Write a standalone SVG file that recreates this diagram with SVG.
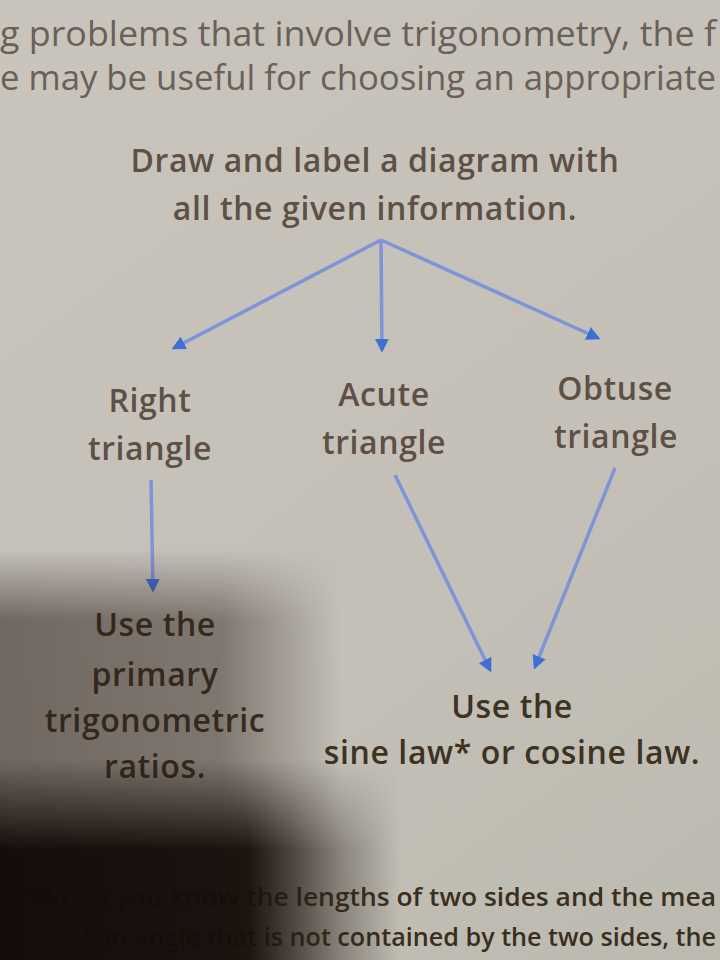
<svg xmlns="http://www.w3.org/2000/svg" width="720" height="960" viewBox="0 0 720 960">
<defs>
<linearGradient id="paper" x1="0" y1="0" x2="720" y2="960" gradientUnits="userSpaceOnUse">
<stop offset="0" stop-color="#c9c5bd"/>
<stop offset="0.6" stop-color="#c4c0b7"/>
<stop offset="1" stop-color="#bcbab0"/>
</linearGradient>
<linearGradient id="hMed" x1="0" y1="0" x2="340" y2="0" gradientUnits="userSpaceOnUse">
<stop offset="0" stop-color="#2a1e18" stop-opacity="0.55"/>
<stop offset="0.65" stop-color="#2a1e18" stop-opacity="0.45"/>
<stop offset="1" stop-color="#2a1e18" stop-opacity="0"/>
</linearGradient>
<linearGradient id="vMed" x1="0" y1="550" x2="0" y2="620" gradientUnits="userSpaceOnUse">
<stop offset="0" stop-color="#fff" stop-opacity="0"/>
<stop offset="1" stop-color="#fff" stop-opacity="1"/>
</linearGradient>
<mask id="mMed" maskUnits="userSpaceOnUse" x="0" y="0" width="720" height="960">
<rect x="0" y="540" width="720" height="420" fill="url(#vMed)"/>
</mask>
<linearGradient id="hDark" x1="0" y1="0" x2="400" y2="0" gradientUnits="userSpaceOnUse">
<stop offset="0" stop-color="#120b08" stop-opacity="0.98"/>
<stop offset="0.62" stop-color="#150e0a" stop-opacity="0.95"/>
<stop offset="0.8" stop-color="#2a201a" stop-opacity="0.5"/>
<stop offset="1" stop-color="#2a201a" stop-opacity="0"/>
</linearGradient>
<linearGradient id="vDark" x1="0" y1="760" x2="0" y2="850" gradientUnits="userSpaceOnUse">
<stop offset="0" stop-color="#fff" stop-opacity="0"/>
<stop offset="1" stop-color="#fff" stop-opacity="1"/>
</linearGradient>
<mask id="mDark" maskUnits="userSpaceOnUse" x="0" y="0" width="720" height="960">
<rect x="0" y="740" width="720" height="220" fill="url(#vDark)"/>
</mask>
<marker id="head" viewBox="0 0 10 10" refX="8" refY="5" markerWidth="4" markerHeight="4" orient="auto">
<path d="M0,0 L10,5 L0,10 z" fill="#3f6fd6"/>
</marker>
<style>
.body{font-family:"Open Sans","Noto Sans",sans-serif;font-size:34px;fill:#6a6058;}
.lbl{font-family:"Open Sans","Noto Sans",sans-serif;font-weight:600;font-size:32px;letter-spacing:0.6px;fill:#5e5045;text-anchor:middle;}
.dark{fill:#3e3222;}
.foot{font-family:"Open Sans","Noto Sans",sans-serif;font-weight:600;font-size:25px;fill:#3a2e1c;}
.conn{stroke:#7f93d8;stroke-width:3.5;fill:none;marker-end:url(#head);}
</style>
</defs>
<rect width="720" height="960" fill="url(#paper)"/>

<g id="intro">
<text class="body" x="0" y="46" textLength="716" lengthAdjust="spacingAndGlyphs">g problems that involve trigonometry, the f</text>
<text class="body" x="0" y="90" textLength="716" lengthAdjust="spacingAndGlyphs">e may be useful for choosing an appropriate</text>
</g>

<g id="start">
<text class="lbl" x="375" y="172">Draw and label a diagram with</text>
<text class="lbl" x="375" y="220">all the given information.</text>
</g>

<g id="right">
<text class="lbl" x="150" y="412">Right</text>
<text class="lbl" x="150" y="460">triangle</text>
</g>
<g id="acute">
<text class="lbl" x="384" y="406">Acute</text>
<text class="lbl" x="384" y="454">triangle</text>
</g>
<g id="obtuse">
<text class="lbl" x="615" y="400">Obtuse</text>
<text class="lbl" x="616" y="448">triangle</text>
</g>

<g id="primary">
<text class="lbl dark" x="155" y="636">Use the</text>
<text class="lbl dark" x="155" y="686">primary</text>
<text class="lbl dark" x="155" y="732">trigonometric</text>
<text class="lbl dark" x="155" y="778">ratios.</text>
</g>
<g id="laws">
<text class="lbl dark" x="512" y="718">Use the</text>
<text class="lbl dark" x="512" y="764">sine law* or cosine law.</text>
</g>

<g id="connectors">
<line class="conn" x1="381" y1="240" x2="174" y2="348"/>
<line class="conn" x1="381" y1="240" x2="382" y2="350"/>
<line class="conn" x1="381" y1="240" x2="598" y2="338"/>
<line class="conn" x1="151" y1="480" x2="153" y2="590"/>
<line class="conn" x1="395" y1="475" x2="490" y2="670"/>
<line class="conn" x1="615" y1="468" x2="535" y2="667"/>
</g>

<g id="footnote">
<text class="foot" x="14" y="906" textLength="702" lengthAdjust="spacingAndGlyphs">* When you know the lengths of two sides and the mea</text>
<text class="foot" x="66" y="946" textLength="650" lengthAdjust="spacingAndGlyphs">of an angle that is not contained by the two sides, the</text>
</g>

<g id="shadow">
<rect x="0" y="540" width="360" height="420" fill="url(#hMed)" mask="url(#mMed)"/>
<rect x="0" y="740" width="400" height="220" fill="url(#hDark)" mask="url(#mDark)"/>
</g>
</svg>
